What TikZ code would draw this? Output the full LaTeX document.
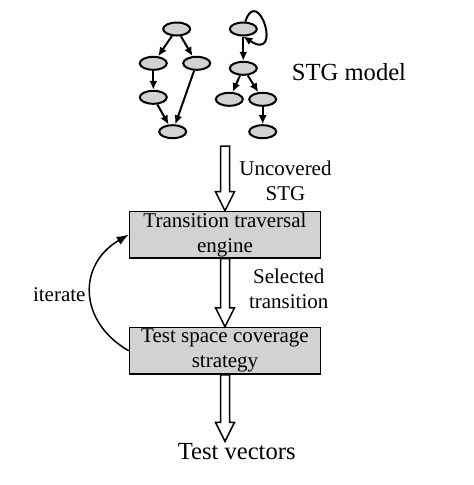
\documentclass[tikz,border=0pt]{standalone}
\usepackage{fontspec}
\setmainfont{Liberation Serif}
\usetikzlibrary{arrows.meta,shapes.geometric,calc}

\begin{document}
\begin{tikzpicture}[x=1pt,y=-1pt,state/.style={ellipse, draw, line width=2pt, fill=gray!35, minimum width=27pt, minimum height=13pt, inner sep=0pt},edge/.style={line width=2pt, -{Latex[length=9pt,width=8pt]}},block/.style={draw, line width=1.5pt, fill=gray!35, minimum width=191pt, minimum height=46.5pt, align=center, inner sep=0pt, font=\fontsize{21}{25}\selectfont},lbl/.style={align=center, inner sep=0pt, font=\fontsize{21}{25}\selectfont},big/.style={inner sep=2pt, font=\fontsize{24.6}{28}\selectfont},hollow/.style={draw, fill=white, line width=1.5pt, to path={let \p1=(\tikztostart), \p2=(\tikztotarget) in (\x1-4.5pt,\y1) -- (\x1-4.5pt,\y2+19pt) -- (\x1-9.5pt,\y2+19pt) -- (\x1,\y2) -- (\x1+9.5pt,\y2+19pt) -- (\x1+4.5pt,\y2+19pt) -- (\x1+4.5pt,\y1) -- cycle}}]
\useasboundingbox (0,0) rectangle (474,485);
\node[state] (la) at (176.7,29) {};\node[state] (lb) at (153.3,63.3) {};\node[state] (lc) at (196.7,63.3) {};\node[state] (ld) at (153.3,97.3) {};\node[state] (le) at (172.7,131.7) {};
\node[state] (ra) at (243.3,29) {};\node[state] (rb) at (243.3,68.3) {};\node[state] (rc) at (229.3,99.3) {};\node[state] (rd) at (262.7,99.3) {};\node[state] (re) at (262.7,131.7) {};
\foreach \a/\b in {la/lb,la/lc,lb/ld,ld/le,lc/le,ra/rb,rb/rc,rb/rd,rd/re}\draw[edge] (\a) -- (\b);
\draw[edge] (ra.75) .. controls +(13,-38) and +(40,26) .. (ra.south);
\node[big] (model) at (349,71.7) {STG model};
\node[block] (engine) at (225,234.7) {Transition traversal\\engine};
\node[block] (strategy) at (225,350.8) {Test space coverage\\strategy};
\node[big] (vectors) at (236.7,451.7) {Test vectors};
\coordinate (stg) at (225,146);
\draw[hollow] (stg) to (engine.north);\draw[hollow] (engine.south) to (strategy.north);\draw[hollow] (strategy.south) to (strategy.south |- vectors.north);
\draw[line width=1.5pt, -{Latex[length=12pt,width=9pt]}] (strategy.west) to[out=150,in=210,looseness=1.3] (engine.west);
\node[lbl] (uncov) at (285.5,180.8) {Uncovered\\STG};\node[lbl] (sel) at (288.7,289.2) {Selected\\transition};\node[lbl] (iter) at (59.3,295) {iterate};
\end{tikzpicture}
\end{document}
